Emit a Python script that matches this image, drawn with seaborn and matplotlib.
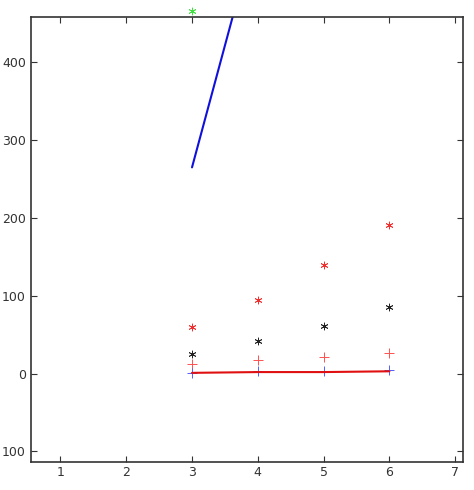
import matplotlib
matplotlib.use("Agg")
import matplotlib.pyplot as plt
import seaborn as sns

sns.set_style("ticks")

x = [3, 4, 5, 6]
red_star = [60, 95, 140, 191]
black_star = [25, 42, 61, 85]
red_plus = [12, 17, 22, 26]
blue_plus = [1, 3, 3, 5]
red_line = [1, 2, 2, 3]
blue_line_x = [3, 4]
blue_line_y = [265, 578]
green_x = [3]
green_y = [466]

fig, ax = plt.subplots(figsize=(4.74, 4.90), dpi=100)
fig.subplots_adjust(left=0.065, right=0.977, top=0.965, bottom=0.058)

star = (6, 2, 0)
sns.lineplot(x=blue_line_x, y=blue_line_y, color="#1010dd", lw=1.5, ax=ax)
sns.lineplot(x=x, y=red_line, color="#e01010", lw=1.5, ax=ax)
sns.scatterplot(x=x, y=red_star, marker=star, color="#ee3030", s=25, linewidth=0.6, ax=ax)
sns.scatterplot(x=x, y=black_star, marker=star, color="#222222", s=25, linewidth=0.6, ax=ax)
sns.scatterplot(x=x, y=red_plus, marker="+", color="#ff5050", s=45, linewidth=0.7, ax=ax)
sns.scatterplot(x=x, y=blue_plus, marker="+", color="#5060ff", s=45, linewidth=0.7, ax=ax)
ax.scatter(green_x, green_y, marker=star, color="#40e040", s=25, linewidth=0.6, clip_on=False, zorder=5)

ax.set_xlim(0.55, 7.12)
ax.set_ylim(-113, 458)
ax.set_xticks([1, 2, 3, 4, 5, 6, 7])
ax.set_yticks([-100, 0, 100, 200, 300, 400])
ax.set_yticklabels(["100", "0", "100", "200", "300", "400"])
ax.tick_params(direction="in", top=True, right=True, labelsize=9, colors="#333333", length=4)
for s in ax.spines.values():
    s.set_color("#333333")
    s.set_linewidth(1.2)

fig.savefig("out.png", dpi=100)
